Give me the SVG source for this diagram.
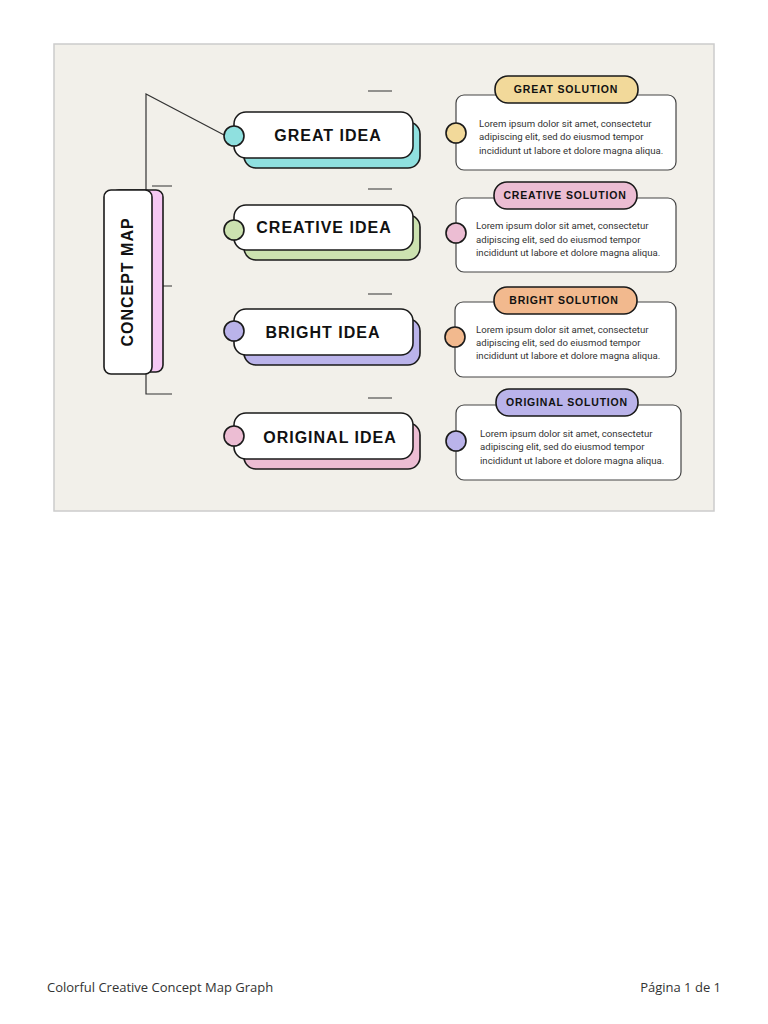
<svg xmlns="http://www.w3.org/2000/svg" width="768" height="1024" viewBox="0 0 768 1024">
<style>
.ln{stroke:#333;stroke-width:1.2;fill:none}
.sh{stroke:#1a1a1a;stroke-width:1.6}
.wb{fill:#fff;stroke:#1a1a1a;stroke-width:1.6}
.idea{font-family:"Liberation Sans",Arial,sans-serif;font-weight:bold;font-size:16px;letter-spacing:1px;fill:#111;text-anchor:middle}
.sol{font-family:"Liberation Sans",Arial,sans-serif;font-weight:bold;font-size:10.5px;letter-spacing:0.8px;fill:#111;text-anchor:middle}
.body{font-family:Roboto,"Liberation Sans",sans-serif;font-size:9.6px;fill:#333}
.sb{fill:#fff;stroke:#444;stroke-width:1.2}
.ft{font-family:"Open Sans","Liberation Sans",sans-serif;font-size:13px;fill:#333}
</style>
<rect width="768" height="1024" fill="#fff"/>
<rect x="54" y="44" width="660" height="467" fill="#f2f0ea" stroke="#ccc" stroke-width="1.5"/>
<g id="connectors">
<path class="ln" d="M146 190V94L226 136M152 186H172M163 286H172M146 374V394H172"/>
<path class="ln" d="M368 91H392M368 189H392M368 294H392M368 398H392"/>
</g>
<g id="concept">
<rect x="112" y="190" width="51" height="182" rx="7" fill="#f6c8f4" class="sh"/>
<rect x="104" y="190" width="48" height="184" rx="7" class="wb"/>
<text class="idea" transform="translate(133 282) rotate(-90)">CONCEPT MAP</text>
</g>
<g id="idea1">
<rect x="244" y="122" width="176" height="46" rx="12" fill="#8fe0df" class="sh"/>
<rect x="234" y="112" width="179" height="46" rx="12" class="wb"/>
<circle cx="234" cy="136" r="10" fill="#8fe0df" class="sh"/>
<text class="idea" x="328" y="141">GREAT IDEA</text>
</g>
<g id="idea2">
<rect x="244" y="215" width="176" height="45" rx="12" fill="#cce2b0" class="sh"/>
<rect x="234" y="205" width="179" height="45" rx="12" class="wb"/>
<circle cx="234" cy="230" r="10" fill="#cce2b0" class="sh"/>
<text class="idea" x="324" y="233">CREATIVE IDEA</text>
</g>
<g id="idea3">
<rect x="244" y="319" width="176" height="46" rx="12" fill="#bab3ea" class="sh"/>
<rect x="234" y="309" width="179" height="46" rx="12" class="wb"/>
<circle cx="234" cy="331" r="10" fill="#bab3ea" class="sh"/>
<text class="idea" x="323" y="338">BRIGHT IDEA</text>
</g>
<g id="idea4">
<rect x="244" y="423" width="176" height="46" rx="12" fill="#ecbdd3" class="sh"/>
<rect x="234" y="413" width="179" height="46" rx="12" class="wb"/>
<circle cx="234" cy="436" r="10" fill="#ecbdd3" class="sh"/>
<text class="idea" x="330" y="443">ORIGINAL IDEA</text>
</g>
<g id="sol1">
<rect x="456" y="95" width="220" height="75" rx="8" class="sb"/>
<rect x="495" y="76" width="143" height="27" rx="13" fill="#f2d99a" class="sh"/>
<text class="sol" x="566" y="93">GREAT SOLUTION</text>
<circle cx="456" cy="133" r="10" fill="#f2d99a" class="sh"/>
<text class="body" x="479" y="127">Lorem ipsum dolor sit amet, consectetur</text>
<text class="body" x="479" y="140">adipiscing elit, sed do eiusmod tempor</text>
<text class="body" x="479" y="154">incididunt ut labore et dolore magna aliqua.</text>
</g>
<g id="sol2">
<rect x="456" y="198" width="220" height="74" rx="8" class="sb"/>
<rect x="494" y="182" width="143" height="27" rx="13" fill="#ecbdd3" class="sh"/>
<text class="sol" x="565" y="199">CREATIVE SOLUTION</text>
<circle cx="456" cy="233" r="10" fill="#ecbdd3" class="sh"/>
<text class="body" x="476" y="229">Lorem ipsum dolor sit amet, consectetur</text>
<text class="body" x="476" y="243">adipiscing elit, sed do eiusmod tempor</text>
<text class="body" x="476" y="256">incididunt ut labore et dolore magna aliqua.</text>
</g>
<g id="sol3">
<rect x="455" y="302" width="221" height="75" rx="8" class="sb"/>
<rect x="494" y="287" width="143" height="27" rx="13" fill="#f2b98e" class="sh"/>
<text class="sol" x="564" y="304">BRIGHT SOLUTION</text>
<circle cx="455" cy="337" r="10" fill="#f2b98e" class="sh"/>
<text class="body" x="476" y="333">Lorem ipsum dolor sit amet, consectetur</text>
<text class="body" x="476" y="346">adipiscing elit, sed do eiusmod tempor</text>
<text class="body" x="476" y="359">incididunt ut labore et dolore magna aliqua.</text>
</g>
<g id="sol4">
<rect x="456" y="405" width="225" height="75" rx="8" class="sb"/>
<rect x="496" y="389" width="142" height="27" rx="13" fill="#bab3ea" class="sh"/>
<text class="sol" x="567" y="406">ORIGINAL SOLUTION</text>
<circle cx="456" cy="441" r="10" fill="#bab3ea" class="sh"/>
<text class="body" x="480" y="437">Lorem ipsum dolor sit amet, consectetur</text>
<text class="body" x="480" y="450">adipiscing elit, sed do eiusmod tempor</text>
<text class="body" x="480" y="464">incididunt ut labore et dolore magna aliqua.</text>
</g>
<text class="ft" x="47" y="992">Colorful Creative Concept Map Graph</text>
<text class="ft" x="721" y="992" text-anchor="end">Página 1 de 1</text>
</svg>
